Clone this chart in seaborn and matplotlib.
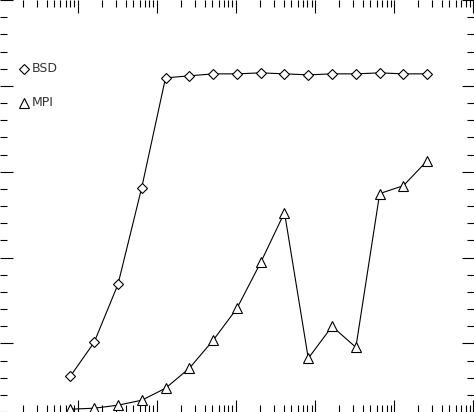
import numpy as np
import pandas as pd
import matplotlib
matplotlib.use("Agg")
import matplotlib.pyplot as plt
import seaborn as sns
from matplotlib.ticker import MultipleLocator, LogLocator

sizes = [8, 16, 32, 64, 128, 256, 512, 1024, 2048, 4096, 8192, 16384, 32768, 65536, 131072, 262144]
bsd_px = [377, 343, 285, 188, 78, 76, 74, 74, 73, 74, 75, 74, 74, 73, 74, 74]
mpi_px = [410, 409, 406, 401, 389, 369, 341, 309, 263, 213, 359, 327, 348, 194, 186, 161]
bsd = [25 - p / 17.2 for p in bsd_px]
mpi = [25 - p / 17.2 for p in mpi_px]

df = pd.concat([
    pd.DataFrame({"size": sizes, "val": bsd, "series": "BSD"}),
    pd.DataFrame({"size": sizes, "val": mpi, "series": "MPI"}),
])

sns.set_style("white")
fig = plt.figure(figsize=(4.74, 4.12), dpi=100)
ax = fig.add_axes([0, 0, 1, 1])
for name, mk, ms in [("BSD", "D", 5), ("MPI", "^", 7)]:
    sub = df[df.series == name]
    sns.lineplot(data=sub, x="size", y="val", ax=ax, color="black", lw=0.8,
                 marker=mk, markersize=ms, markerfacecolor="white",
                 markeredgecolor="black", markeredgewidth=0.8, legend=False)
ax.set_xscale("log")
ax.set_xlim(10 ** 0.013, 10 ** 6.01)
ax.set_ylim(1, 25)
ax.yaxis.set_major_locator(MultipleLocator(5))
ax.yaxis.set_minor_locator(MultipleLocator(1))
ax.xaxis.set_minor_locator(LogLocator(subs=np.arange(2, 10)))
ax.tick_params(which="both", direction="in", top=True, right=True,
               bottom=True, left=True,
               labelbottom=False, labelleft=False, color="black")
ax.tick_params(which="major", length=9, width=0.8)
ax.tick_params(which="minor", length=5, width=0.8)
ax.set_xlabel(""); ax.set_ylabel("")
for s in ax.spines.values():
    s.set_visible(False)
ax.plot([0.05], [1 - 69 / 412], transform=ax.transAxes, marker="D", ms=5,
        mfc="white", mec="black", mew=0.8)
ax.plot([0.05], [1 - 103 / 412], transform=ax.transAxes, marker="^", ms=7,
        mfc="white", mec="black", mew=0.8)
ax.text(0.068, 1 - 69 / 412, "BSD", transform=ax.transAxes, va="center", fontsize=9, color="#333")
ax.text(0.068, 1 - 103 / 412, "MPI", transform=ax.transAxes, va="center", fontsize=9, color="#333")
fig.savefig("out.png", dpi=100)
